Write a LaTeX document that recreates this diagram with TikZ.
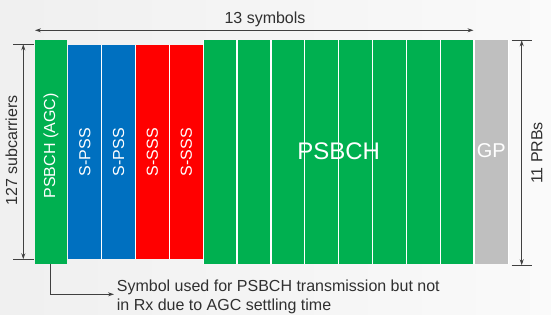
\documentclass[tikz,border=0pt]{standalone}
\usepackage{fontspec}
\setmainfont{Liberation Sans}
\usetikzlibrary{arrows.meta}
\definecolor{pgreen}{HTML}{00B050}
\definecolor{pblue}{HTML}{0070C0}
\definecolor{pred}{HTML}{FF0000}
\definecolor{pgray}{HTML}{BFBFBF}
\definecolor{pline}{HTML}{404040}
\definecolor{ptext}{HTML}{303030}
\begin{document}
\begin{tikzpicture}[x=1pt,y=-1pt,
  col/.style={draw=none,inner sep=0,minimum width=32.6pt,outer sep=0},
  tall/.style={col,minimum height=224pt},
  short/.style={col,minimum height=214.5pt},
  lab/.style={text=white,font=\fontsize{16}{19}\selectfont,inner sep=0,rotate=90},
  dim/.style={draw=pline,line width=0.9pt},
  dimarrow/.style={dim,{Stealth[length=6pt,width=4pt]}-{Stealth[length=6pt,width=4pt]}},
  conn/.style={dim,-{Stealth[length=6pt,width=4pt]}},
  dimtext/.style={text=ptext,font=\fontsize{16}{19}\selectfont,inner sep=0}]
\path[use as bounding box,left color=black!6,right color=black!2] (0,0) rectangle (551,314);
% white backings for the gaps
\fill[white] (67.85,45) rectangle (203.2,259.3);
\fill[white] (203.2,40.3) rectangle (508.5,264.3);
% columns
\node[tall,fill=pgreen] (c1) at (50.92,152.3) {};
\node[short,fill=pblue] (c2) at (84.78,152.15) {};
\node[short,fill=pblue] (c3) at (118.63,152.15) {};
\node[short,fill=pred] (c4) at (152.48,152.15) {};
\node[short,fill=pred] (c5) at (186.32,152.15) {};
\node[tall,fill=pgreen] (c6) at (220.17,152.3) {};
\node[tall,fill=pgreen] (c7) at (254.02,152.3) {};
\node[tall,fill=pgreen] (c8) at (287.86,152.3) {};
\node[tall,fill=pgreen] (c9) at (321.71,152.3) {};
\node[tall,fill=pgreen] (c10) at (355.56,152.3) {};
\node[tall,fill=pgreen] (c11) at (389.40,152.3) {};
\node[tall,fill=pgreen] (c12) at (423.25,152.3) {};
\node[tall,fill=pgreen] (c13) at (457.10,152.3) {};
\node[tall,fill=pgray] (gp) at (491.5,152.3) {};
% labels
\node[lab] (l1) at (51,146) {PSBCH (AGC)};
\node[lab] (l2) at (c2 |- 0,152) {S-PSS};
\node[lab] (l3) at (c3 |- 0,152) {S-PSS};
\node[lab] (l4) at (c4 |- 0,152) {S-SSS};
\node[lab] (l5) at (c5 |- 0,152) {S-SSS};
\node[text=white,font=\fontsize{24}{28}\selectfont,inner sep=0] (lp) at (338.6,151) {PSBCH};
\node[text=white,font=\fontsize{20}{24}\selectfont,inner sep=0] (lg) at (491.2,151) {GP};
% top dimension
\coordinate (tl) at (35,30.3);
\coordinate (tr) at (473.5,30.3);
\draw[dimarrow] (tl) -- (tr);
\node[dimtext,anchor=base] (tsym) at (265,23.3) {13 symbols};
% left dimension
\coordinate (lt1) at (13,44.3); \coordinate (lt2) at (34,44.3);
\coordinate (lb1) at (13,259.3); \coordinate (lb2) at (34,259.3);
\draw[dim] (lt1) -- (lt2);
\draw[dim] (lb1) -- (lb2);
\coordinate (la1) at (23.3,44.3); \coordinate (la2) at (23.3,259.3);
\draw[dimarrow] (la1) -- (la2);
\node[dimtext,rotate=90] (lsub) at (11.5,150.5) {127 subcarriers};
% right dimension
\coordinate (rt1) at (511.7,40.3); \coordinate (rt2) at (532,40.3);
\coordinate (rb1) at (511.7,265.3); \coordinate (rb2) at (532,265.3);
\draw[dim] (rt1) -- (rt2);
\draw[dim] (rb1) -- (rb2);
\coordinate (ra1) at (521.7,40.3); \coordinate (ra2) at (521.7,265.3);
\draw[dimarrow] (ra1) -- (ra2);
\node[dimtext,rotate=90] (lprb) at (537,153) {11 PRBs};
% note
\node[dimtext,align=left,anchor=north west] (note) at (116.7,279.8) {Symbol used for PSBCH transmission but not\\in Rx due to AGC settling time};
\coordinate (agcend) at (114,294.3);
\draw[conn] (c1.south) -- (c1.south |- agcend) -- (agcend);
\end{tikzpicture}
\end{document}
